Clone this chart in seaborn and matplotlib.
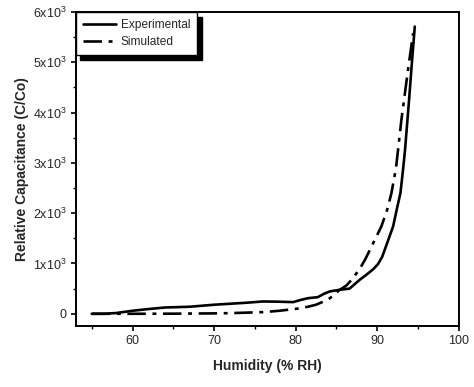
import numpy as np
import pandas as pd
import matplotlib
matplotlib.use("Agg")
import matplotlib.pyplot as plt
import seaborn as sns
from matplotlib.ticker import FuncFormatter, MultipleLocator

# values
humidity_exp = [55.0, 56.5, 58.0, 60.0, 62.0, 64.0, 67.0, 70.0, 72.0, 74.0, 76.0,
                78.0, 79.7, 80.5, 81.5, 82.7, 83.5, 84.2, 85.4, 86.6, 87.85, 88.7,
                89.5, 90.1, 90.6, 91.2, 91.94, 92.4, 92.84, 93.16, 93.4, 93.9,
                94.25, 94.6]
cap_exp = [0, 0, 15, 60, 95, 125, 140, 180, 200, 220, 245,
           240, 232, 270, 310, 330, 400, 445, 477, 500, 676, 780,
           885, 990, 1130, 1400, 1735, 2080, 2400, 2863, 3250, 4255,
           5000, 5710]

humidity_sim = [55.0, 60.0, 65.0, 70.0, 72.0, 76.0, 78.0, 80.1, 81.5, 82.5, 83.5,
                84.2, 85.4, 86.2, 87.0, 87.9, 88.5, 89.1, 90.5, 91.2, 91.74,
                92.3, 92.96, 93.77, 94.4]
cap_sim = [0, 0, 2, 8, 13, 33, 60, 100, 140, 180, 250,
           310, 477, 560, 700, 908, 1074, 1272, 1735, 2060, 2400,
           2900, 3857, 4851, 5580]

exp_df = pd.DataFrame({"humidity": humidity_exp, "cap": cap_exp})
sim_df = pd.DataFrame({"humidity": humidity_sim, "cap": cap_sim})

sns.set_style("ticks")
plt.rcParams["font.family"] = ["Liberation Sans", "DejaVu Sans"]
plt.rcParams["mathtext.default"] = "regular"

fig = plt.figure(figsize=(4.74, 3.87), dpi=100)
ax = fig.add_axes([0.160, 0.158, 0.808, 0.811])

sns.lineplot(data=exp_df, x="humidity", y="cap", ax=ax, color="black",
             linewidth=1.9, label="Experimental")
sns.lineplot(data=sim_df, x="humidity", y="cap", ax=ax, color="black",
             linewidth=1.9, linestyle=(0, (7, 2.5, 1.5, 2.5)), label="Simulated")

ax.set_xlim(53.05, 100)
ax.set_ylim(-240, 6000)
ax.xaxis.set_major_locator(MultipleLocator(10))
ax.xaxis.set_minor_locator(MultipleLocator(5))
ax.yaxis.set_major_locator(MultipleLocator(1000))
ax.yaxis.set_minor_locator(MultipleLocator(500))


def sci_fmt(v, pos):
    n = int(round(v / 1000))
    if n == 0:
        return "0"
    return f"{n}x10$^{{3}}$"


ax.yaxis.set_major_formatter(FuncFormatter(sci_fmt))
ax.tick_params(axis="both", which="major", direction="out", length=3.5,
               width=1.2, labelsize=9, color="black", pad=3)
ax.tick_params(axis="both", which="minor", direction="out", length=2,
               width=1.0, color="black")
for s in ax.spines.values():
    s.set_visible(True)
    s.set_color("black")
    s.set_linewidth(1.4)

ax.set_xlabel("Humidity (% RH)", fontsize=10, fontweight="bold", labelpad=9)
ax.set_ylabel("Relative Capacitance (C/Co)", fontsize=10, fontweight="bold",
              labelpad=3)

leg = ax.legend(loc="upper left", borderaxespad=0, fancybox=False,
                edgecolor="black", fontsize=8.6, handlelength=2.8,
                borderpad=0.6, labelspacing=0.4, handletextpad=0.35,
                framealpha=1,
                shadow={"ox": 3.3, "oy": -3.5, "color": "black", "alpha": 1})
leg.get_frame().set_linewidth(1.0)

fig.savefig("out.png", dpi=100)
